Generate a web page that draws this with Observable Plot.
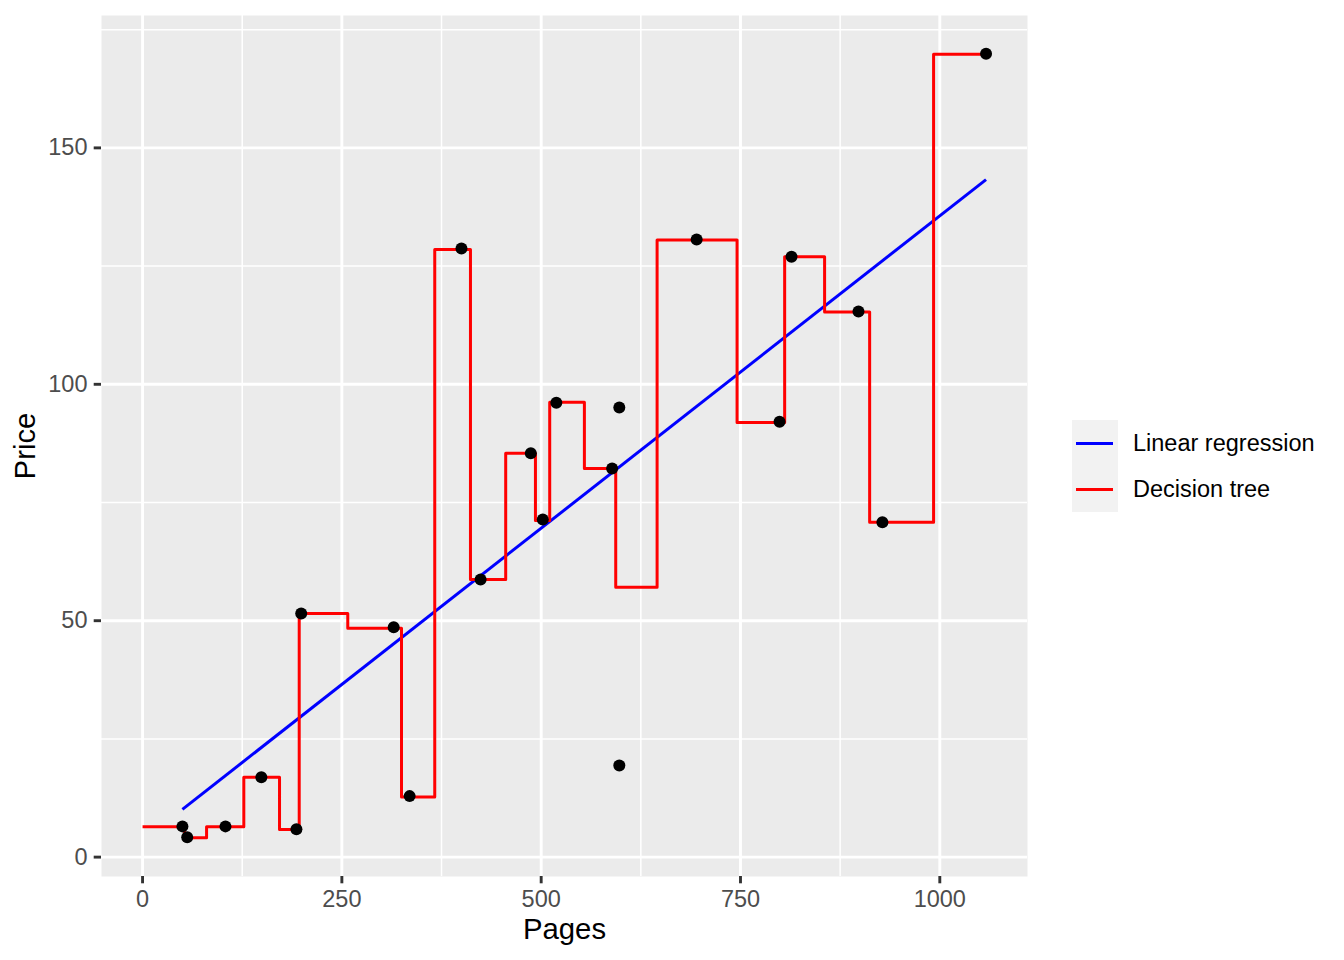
<!DOCTYPE html>
<html>
<head>
<meta charset="utf-8">
<script src="https://cdn.jsdelivr.net/npm/d3@7"></script>
<script src="https://cdn.jsdelivr.net/npm/@observablehq/plot@0.6"></script>
<style>
  html, body { margin: 0; padding: 0; background: white; }
  #wrap { position: relative; width: 1344px; height: 960px; font-family: "Liberation Sans", Arial, sans-serif; }
  #legend { position: absolute; left: 1072px; top: 420px; }
  .row { display: flex; align-items: center; height: 46px; }
  .key { width: 46px; height: 46px; background: #F2F2F2; position: relative; }
  .key span { position: absolute; left: 4px; right: 5px; top: 21.5px; height: 3px; }
  .lab { margin-left: 15px; font-size: 23.5px; color: black; white-space: nowrap; }
</style>
</head>
<body>
<div id="wrap"><div id="legend"></div></div>
<script>
// Observed data points (Pages, Price)
const pages = [50, 56, 104, 149, 193, 199, 315, 335, 400, 424, 487, 502, 519, 589, 598, 598, 695, 799, 814, 898, 928, 1058];
const price = [6.5, 4.2, 6.5, 16.9, 5.9, 51.5, 48.6, 12.9, 128.7, 58.7, 85.4, 71.4, 96.1, 82.2, 95.1, 19.4, 130.6, 92.1, 127.0, 115.4, 70.8, 169.9];

// Decision tree prediction: split points (start of each step) and levels
const treeBreaks = [0, 52.7, 80.3, 127, 171.8, 196.5, 257.4, 324.8, 366.5, 411.3, 455.5, 492.8, 510.7, 554.2, 593.5, 645.4, 745.7, 805.4, 855.5, 912, 992.2, 1058];
const treeLevels = [6.4, 4.1, 6.4, 16.9, 5.85, 51.5, 48.4, 12.7, 128.5, 58.7, 85.4, 71.2, 96.2, 82.2, 57.1, 130.5, 91.9, 127.0, 115.3, 70.8, 169.8];

// Linear regression fitted line endpoints
const regX = [50, 1058];
const regY = [10.1, 143.3];

// Axis ticks
const xTicks = [0, 250, 500, 750, 1000];
const xMinor = [125, 375, 625, 875];
const yTicks = [0, 50, 100, 150];
const yMinor = [25, 75, 125, 175];

// Legend
const seriesNames = ["Linear regression", "Decision tree"];
const seriesColors = ["#0000FF", "#FF0000"];

const points = pages.map((p, i) => ({x: p, y: price[i]}));
const tree = treeBreaks.map((b, i) => ({x: b, y: treeLevels[Math.min(i, treeLevels.length - 1)]}));
const reg = regX.map((v, i) => ({x: v, y: regY[i]}));

const lw = 3;
const chart = Plot.plot({
  width: 1344,
  height: 960,
  marginLeft: 101,
  marginRight: 317,
  marginTop: 15,
  marginBottom: 84,
  x: {domain: [-51.5, 1110]},
  y: {domain: [-4.1, 178]},
  style: {fontFamily: '"Liberation Sans", Arial, sans-serif', background: "white", overflow: "visible"},
  marks: [
    Plot.frame({fill: "#EBEBEB", stroke: null}),
    Plot.gridX({ticks: xMinor, stroke: "white", strokeOpacity: 1, strokeWidth: 1.5}),
    Plot.gridY({ticks: yMinor, stroke: "white", strokeOpacity: 1, strokeWidth: 1.5}),
    Plot.gridX({ticks: xTicks, stroke: "white", strokeOpacity: 1, strokeWidth: 2.9}),
    Plot.gridY({ticks: yTicks, stroke: "white", strokeOpacity: 1, strokeWidth: 2.9}),
    Plot.line(reg, {x: "x", y: "y", stroke: seriesColors[0], strokeWidth: lw, strokeLinecap: "butt"}),
    Plot.line(tree, {x: "x", y: "y", curve: "step-after", stroke: seriesColors[1], strokeWidth: lw, strokeLinecap: "butt", strokeLinejoin: "round"}),
    Plot.dot(points, {x: "x", y: "y", r: 6, fill: "black", stroke: null}),
    Plot.axisX({ticks: xTicks, tickFormat: d => String(d), tickSize: 7.3, tickPadding: 6.7, fontSize: 23.5, stroke: "#333333", strokeWidth: 2.9, fill: "#4D4D4D", label: null}),
    Plot.axisY({ticks: yTicks, tickFormat: d => String(d), tickSize: 7.3, tickPadding: 6.7, fontSize: 23.5, stroke: "#333333", strokeWidth: 2.9, fill: "#4D4D4D", label: null}),
    Plot.text(["Pages"], {frameAnchor: "bottom", dy: 53.3, textAnchor: "middle", lineAnchor: "middle", fontSize: 29.3, fill: "black"}),
    Plot.text(["Price"], {frameAnchor: "left", dx: -75.4, rotate: -90, textAnchor: "middle", lineAnchor: "middle", fontSize: 29.3, fill: "black"})
  ]
});
document.getElementById("wrap").prepend(chart);

const legend = d3.select("#legend");
seriesNames.forEach((name, i) => {
  const row = legend.append("div").attr("class", "row");
  row.append("div").attr("class", "key").append("span").style("background", seriesColors[i]);
  row.append("div").attr("class", "lab").text(name);
});
</script>
</body>
</html>
